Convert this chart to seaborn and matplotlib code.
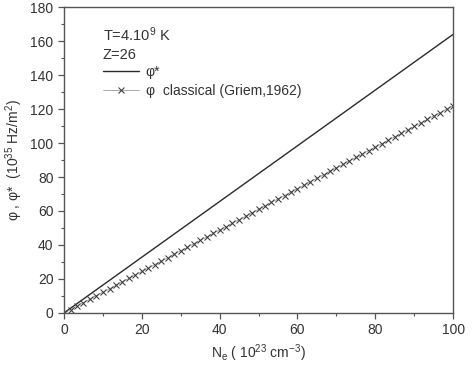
import matplotlib
matplotlib.use("Agg")
import matplotlib.pyplot as plt
import seaborn as sns
import pandas as pd
from matplotlib.ticker import MultipleLocator

# ------------------ DATOS ------------------

# phi* (linea continua)
ne_star = [0, 20, 40, 60, 80, 100]
phi_star = [0, 32.8, 65.6, 98.4, 131.2, 164.0]

# phi clasico (Griem, 1962), marcadores x
ne_class = [0, 1.7, 3.3, 5, 6.7, 8.3, 10, 11.7, 13.3, 15, 16.7, 18.3, 20, 21.7, 23.3,
            25, 26.7, 28.3, 30, 31.7, 33.3, 35, 36.7, 38.3, 40, 41.7, 43.3, 45, 46.7,
            48.3, 50, 51.7, 53.3, 55, 56.7, 58.3, 60, 61.7, 63.3, 65, 66.7, 68.3, 70,
            71.7, 73.3, 75, 76.7, 78.3, 80, 81.7, 83.3, 85, 86.7, 88.3, 90, 91.7, 93.3,
            95, 96.7, 98.3, 100]
phi_class = [0, 2.0, 4.1, 6.1, 8.1, 10.2, 12.2, 14.2, 16.3, 18.3, 20.3, 22.4, 24.4, 26.4,
             28.5, 30.5, 32.5, 34.6, 36.6, 38.6, 40.7, 42.7, 44.7, 46.8, 48.8, 50.8, 52.9,
             54.9, 56.9, 59.0, 61.0, 63.0, 65.1, 67.1, 69.1, 71.2, 73.2, 75.2, 77.3, 79.3,
             81.3, 83.4, 85.4, 87.4, 89.5, 91.5, 93.5, 95.6, 97.6, 99.6, 101.7, 103.7,
             105.7, 107.8, 109.8, 111.8, 113.9, 115.9, 117.9, 120.0, 122.0]

x_ticks = [0, 20, 40, 60, 80, 100]
y_ticks = [0, 20, 40, 60, 80, 100, 120, 140, 160, 180]

df_star = pd.DataFrame({"Ne": ne_star, "phi": phi_star})
df_class = pd.DataFrame({"Ne": ne_class, "phi": phi_class})

# ------------------ GRAFICO ------------------

sns.set_style("ticks")
plt.rcParams["font.family"] = ["Liberation Sans", "DejaVu Sans"]
plt.rcParams["mathtext.fontset"] = "custom"
plt.rcParams["mathtext.rm"] = "Liberation Sans"
plt.rcParams["mathtext.it"] = "Liberation Sans"

gris = "#555555"
linea = "#2a2a2a"
texto = "#333333"

fig = plt.figure(figsize=(4.74, 3.77), dpi=100)
ax = fig.add_axes([0.135, 0.170, 0.821, 0.811])

sns.lineplot(data=df_star, x="Ne", y="phi", ax=ax, color=linea, lw=1.0)
sns.lineplot(data=df_class, x="Ne", y="phi", ax=ax, color="#8a8a8a", lw=0.5,
             marker="x", markersize=3.8, mew=0.75, mec="#3a3a3a")

l_star, l_class = ax.lines[0], ax.lines[1]

ax.set_xlim(0, 100)
ax.set_ylim(0, 180)
ax.set_xticks(x_ticks)
ax.set_yticks(y_ticks)
ax.xaxis.set_minor_locator(MultipleLocator(10))
ax.yaxis.set_minor_locator(MultipleLocator(10))
ax.tick_params(which="major", direction="out", length=4, width=0.9, color=gris,
               labelsize=10, labelcolor=texto)
ax.tick_params(which="minor", direction="out", length=2.5, width=0.8, color=gris)
for s in ax.spines.values():
    s.set_color(gris)
    s.set_linewidth(1.0)

ax.set_xlabel("N$_\\mathregular{e}$ ( 10$^{23}$ cm$^{-3}$)", fontsize=10, color=texto)
ax.set_ylabel("φ , φ*  (10$^{35}$ Hz/m$^{2}$)", fontsize=10, color=texto)

ax.text(0.100, 0.910, "T=4.10$^{9}$ K", transform=ax.transAxes, fontsize=10.5,
        color=texto, va="center")
ax.text(0.100, 0.845, "Z=26", transform=ax.transAxes, fontsize=10.5,
        color=texto, va="center")

leg = ax.legend([l_star, l_class], ["φ*", "φ  classical (Griem,1962)"],
                loc="upper left", bbox_to_anchor=(0.085, 0.83), frameon=False,
                fontsize=10, handlelength=2.6, handletextpad=0.5,
                labelspacing=0.35, borderaxespad=0)
for t in leg.get_texts():
    t.set_color(texto)

plt.savefig("out.png", dpi=100)
plt.close()
